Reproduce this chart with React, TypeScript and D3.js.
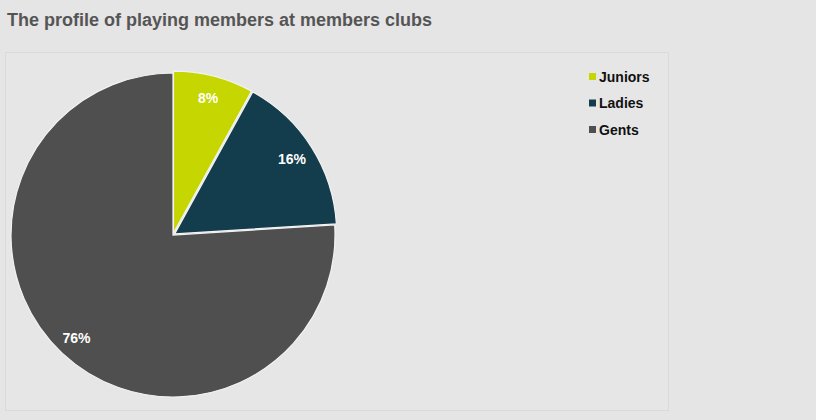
import React, { useEffect, useRef } from 'react';
import * as d3 from 'd3';

const categories = ['Juniors', 'Ladies', 'Gents'];
const shares = [8, 16, 76];
const colors = ['#c5d600', '#133d4c', '#4f4f4f'];
// slices pulled slightly out of the pie
const explode = [2, 2, 0];

const App: React.FC = () => {
  const svgRef = useRef<SVGSVGElement>(null);

  useEffect(() => {
    if (!svgRef.current) return;
    const svg = d3.select(svgRef.current);
    svg.selectAll('*').remove();

    const width = 816;
    const height = 420;

    svg.append('rect')
      .attr('width', width)
      .attr('height', height)
      .attr('fill', '#e5e5e5');

    // title
    svg.append('text')
      .attr('x', 7)
      .attr('y', 26)
      .style('font-family', '"Liberation Sans", Arial, sans-serif')
      .style('font-size', '18px')
      .style('font-weight', '700')
      .style('fill', '#555555')
      .text('The profile of playing members at members clubs');

    // plot area frame
    svg.append('rect')
      .attr('x', 5.5)
      .attr('y', 52.5)
      .attr('width', 663)
      .attr('height', 358)
      .attr('fill', '#e6e6e6')
      .attr('stroke', '#dadada')
      .attr('stroke-width', 1);

    const cx = 173;
    const cy = 235;
    const radius = 162;

    const data = categories.map((c, i) => ({ name: c, value: shares[i], color: colors[i], off: explode[i] }));

    const pie = d3.pie<typeof data[0]>()
      .value(d => d.value)
      .sort(null);

    const arc = d3.arc<d3.PieArcDatum<typeof data[0]>>()
      .innerRadius(0)
      .outerRadius(radius);

    const labelArc = d3.arc<d3.PieArcDatum<typeof data[0]>>()
      .innerRadius(141)
      .outerRadius(141);

    const g = svg.append('g').attr('transform', `translate(${cx},${cy})`);

    const arcs = pie(data);

    arcs.forEach(a => {
      const mid = (a.startAngle + a.endAngle) / 2;
      const dx = Math.sin(mid) * a.data.off;
      const dy = -Math.cos(mid) * a.data.off;
      g.append('path')
        .attr('d', arc(a) as string)
        .attr('transform', `translate(${dx},${dy})`)
        .attr('fill', a.data.color)
        .attr('stroke', '#f2f2f2')
        .attr('stroke-width', 1.2);
    });

    arcs.forEach(a => {
      const [lx, ly] = labelArc.centroid(a);
      g.append('text')
        .attr('x', lx)
        .attr('y', ly)
        .attr('dy', '0.35em')
        .attr('text-anchor', 'middle')
        .style('font-family', '"Liberation Sans", Arial, sans-serif')
        .style('font-size', '14px')
        .style('font-weight', '700')
        .style('fill', '#ffffff')
        .text(`${a.data.value}%`);
    });

    // legend
    const legend = svg.append('g').attr('transform', 'translate(589,77)');
    data.forEach((d, i) => {
      const row = legend.append('g').attr('transform', `translate(0,${i * 26.5})`);
      row.append('rect')
        .attr('x', 0)
        .attr('y', -4)
        .attr('width', 7)
        .attr('height', 7)
        .attr('fill', d.color);
      row.append('text')
        .attr('x', 10)
        .attr('y', 0)
        .attr('dy', '0.35em')
        .style('font-family', '"Liberation Sans", Arial, sans-serif')
        .style('font-size', '14px')
        .style('font-weight', '700')
        .style('fill', '#111111')
        .text(d.name);
    });
  }, []);

  return (
    <svg
      ref={svgRef}
      width={816}
      height={420}
      style={{ position: 'absolute', left: 0, top: 0, display: 'block' }}
    />
  );
};

export default App;
